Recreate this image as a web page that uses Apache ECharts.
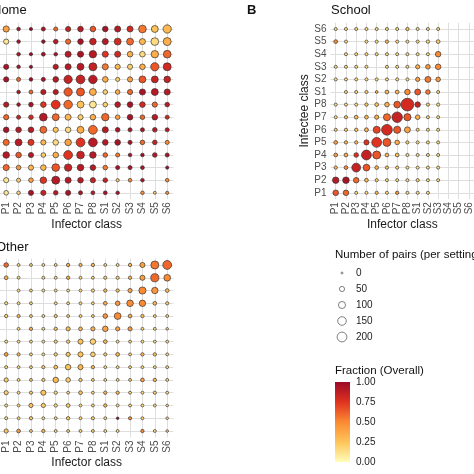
<!DOCTYPE html>
<html>
<head>
<meta charset="utf-8">
<script src="https://cdn.jsdelivr.net/npm/echarts@6/dist/echarts.min.js"></script>
<style>
  html, body { margin: 0; padding: 0; background: #fff; }
  #main { width: 474px; height: 474px; }
</style>
</head>
<body>
<div id="main"></div>
<script>
// infector classes (x) and infectee classes (y, top row first)
const classes = ['P1', 'P2', 'P3', 'P4', 'P5', 'P6', 'P7', 'P8', 'S1', 'S2', 'S3', 'S4', 'S5', 'S6']
const rowsTop = ['S6', 'S5', 'S4', 'S3', 'S2', 'S1', 'P8', 'P7', 'P6', 'P5', 'P4', 'P3', 'P2', 'P1']

// Home - number of pairs, rows S6 -> P1, columns P1 -> S6
const homeCount = [
  [75, 20, 14, 28, 28, 50, 60, 60, 60, 72, 72, 120, 95, 140],
  [50, 20, null, 20, 38, 50, 60, 85, 72, 95, 95, 72, 120, 130],
  [null, 20, 14, 24, 20, 72, 72, 110, 72, 72, 60, 60, 110, 120],
  [50, 20, 14, null, 50, 72, 95, 130, 72, 50, 50, 60, 140, 130],
  [50, 28, 20, 28, 60, 140, 160, 150, 60, 28, 50, 95, 95, 85],
  [null, 20, 24, 50, 50, 140, 130, 95, 38, 38, 50, 72, 95, 72],
  [50, 20, 38, 60, 160, 150, 95, 95, 38, 60, 60, 60, 50, 38],
  [50, 28, 38, 120, 95, 72, 50, 60, 110, 38, 60, 38, 60, 28],
  [60, 60, 60, 95, 50, 60, 95, 160, 72, 38, 28, 28, 38, 28],
  [72, 95, 72, 50, 60, 85, 160, 160, 60, 60, 28, 38, 38, 28],
  [85, 60, 50, 38, 60, 160, 120, 85, 38, 28, 20, 20, 38, 28],
  [72, 38, 50, 60, 120, 110, 85, 60, 38, 28, 28, 24, null, 14],
  [50, 28, 38, 85, 130, 72, 60, 50, 38, 14, 20, 20, null, 20],
  [38, 20, 50, 50, 38, 50, 28, 24, 24, 20, null, 20, 10, 14]
]
// Home - fraction (overall)
const homeFrac = [
  [0.4, 0.95, 1.0, 0.95, 0.6, 0.85, 0.9, 0.65, 0.95, 0.9, 0.8, 0.55, 0.25, 0.3],
  [0.1, 0.95, null, 1.0, 0.9, 0.6, 0.95, 0.85, 0.9, 0.8, 0.6, 0.3, 0.15, 0.35],
  [null, 0.95, 1.0, 0.95, 0.95, 0.9, 0.95, 0.9, 0.75, 0.8, 0.35, 0.15, 0.35, 0.6],
  [0.95, 0.95, 1.0, null, 0.9, 0.9, 0.9, 0.85, 0.55, 0.3, 0.2, 0.35, 0.65, 0.8],
  [0.95, 0.6, 1.0, 0.95, 0.9, 0.85, 0.85, 0.9, 0.35, 0.2, 0.4, 0.65, 0.85, 0.85],
  [null, 0.95, 0.6, 0.9, 0.9, 0.65, 0.65, 0.35, 0.2, 0.35, 0.6, 0.95, 0.9, 0.9],
  [0.9, 0.95, 0.95, 0.75, 0.75, 0.6, 0.25, 0.1, 0.2, 0.9, 0.95, 0.8, 0.6, 0.9],
  [0.6, 0.85, 0.8, 0.9, 0.6, 0.3, 0.2, 0.35, 0.6, 0.4, 0.95, 0.6, 0.9, 0.8],
  [0.95, 0.9, 0.9, 0.6, 0.25, 0.15, 0.35, 0.6, 0.9, 0.95, 0.95, 0.95, 0.9, 0.9],
  [0.6, 0.9, 0.75, 0.3, 0.15, 0.4, 0.75, 0.9, 0.9, 0.95, 0.95, 0.6, 0.85, 0.5],
  [0.9, 0.65, 0.9, 0.2, 0.35, 0.75, 0.85, 0.9, 0.6, 0.55, 0.95, 1.0, 0.9, 0.95],
  [0.6, 0.45, 0.3, 0.3, 0.65, 0.85, 0.9, 0.9, 0.55, 0.95, 0.95, 0.95, null, 1.0],
  [0.1, 0.2, 0.4, 0.75, 0.9, 0.9, 0.9, 0.85, 0.85, 0.2, 0.5, 0.95, null, 0.5],
  [0.1, 0.2, 0.95, 0.85, 0.9, 0.95, 0.95, 0.9, 0.95, 0.95, null, 0.5, 0.2, 0.5]
]

// School - only P1..S3 columns are in the picture
const schoolCount = [
  [12, 12, 12, 12, 12, 12, 12, 16, 12, 12, 12],
  [22, 12, null, 12, 12, 16, 12, 12, 12, 16, 22],
  [null, 12, 12, 12, 12, 12, 12, 12, 12, 12, 58],
  [12, 12, 12, 12, null, 12, 12, 12, 30, 38, 58],
  [12, 12, 12, 12, 12, 12, 12, 12, 30, 68, 38],
  [null, 12, 12, 14, 8, 22, 22, 58, 68, 38, 12],
  [12, 12, 12, 16, 22, 38, 90, 344, 58, 14, 14],
  [12, 14, 22, 22, 30, 100, 230, 103, 38, 12, 12],
  [12, 14, 16, 26, 100, 244, 103, 68, 12, 12, 12],
  [22, 16, 16, 48, 200, 130, 38, 14, 12, 12, 12],
  [22, 22, 38, 200, 130, 22, 22, 12, 12, 12, 12],
  [16, 22, 160, 90, 22, 16, 14, 12, 12, 12, 12],
  [80, 85, 58, 22, 14, 12, 12, 12, 14, 12, 12],
  [60, 58, 12, 12, 14, 12, 16, 12, 12, 12, null]
]
const schoolFrac = [
  [0.15, 0.15, 0.15, 0.15, 0.15, 0.15, 0.15, 0.25, 0.15, 0.15, 0.15],
  [0.5, 0.15, null, 0.15, 0.15, 0.3, 0.15, 0.15, 0.15, 0.15, 0.2],
  [null, 0.15, 0.15, 0.15, 0.15, 0.15, 0.15, 0.15, 0.15, 0.15, 0.5],
  [0.15, 0.15, 0.15, 0.15, null, 0.15, 0.15, 0.15, 0.35, 0.45, 0.5],
  [0.15, 0.15, 0.15, 0.15, 0.15, 0.15, 0.15, 0.15, 0.4, 0.55, 0.45],
  [null, 0.15, 0.15, 0.2, 0.3, 0.3, 0.3, 0.5, 0.65, 0.55, 0.15],
  [0.15, 0.15, 0.15, 0.25, 0.25, 0.35, 0.65, 0.8, 0.85, 0.2, 0.15],
  [0.15, 0.25, 0.3, 0.3, 0.35, 0.6, 0.85, 0.65, 0.35, 0.15, 0.15],
  [0.2, 0.2, 0.25, 0.35, 0.7, 0.8, 0.65, 0.4, 0.2, 0.15, 0.15],
  [0.4, 0.3, 0.3, 0.75, 0.75, 0.65, 0.35, 0.2, 0.15, 0.15, 0.15],
  [0.4, 0.35, 0.75, 0.85, 0.65, 0.3, 0.25, 0.15, 0.15, 0.15, 0.15],
  [0.3, 0.5, 0.85, 0.65, 0.35, 0.25, 0.2, 0.15, 0.15, 0.15, 0.15],
  [0.9, 0.95, 0.6, 0.3, 0.2, 0.15, 0.15, 0.15, 0.2, 0.15, 0.15],
  [0.65, 0.6, 0.15, 0.15, 0.3, 0.15, 0.45, 0.15, 0.15, 0.15, null]
]

// Other
const otherCount = [
  [38, 10, 10, 10, 10, 16, 14, 16, 10, 10, 16, 48, 130, 160],
  [22, 10, null, 10, 10, 16, 10, 10, 14, 14, 16, 48, 135, 90],
  [null, 10, 10, 10, 10, 10, 10, 14, 16, 16, 30, 103, 80, 22],
  [14, 10, 10, null, 10, 10, 10, 10, 22, 38, 85, 80, 22, 14],
  [16, 14, 10, 10, 14, 10, 10, 10, 38, 90, 22, 16, 10, 10],
  [null, 10, 16, 10, 16, 30, 22, 30, 58, 30, 30, 10, 10, 6],
  [12, 10, 10, 10, 14, 16, 48, 58, 22, 10, 10, 10, 10, 10],
  [22, 14, 10, 10, 16, 30, 48, 38, 14, 22, 10, 16, 16, 10],
  [12, 10, 10, 14, 22, 58, 48, 16, 10, 10, 10, 10, 10, 10],
  [30, 10, 10, 14, 58, 38, 16, 10, 10, 10, 10, 22, 16, 10],
  [30, 10, 14, 48, 16, 10, 22, 10, 16, 16, 10, 10, 14, 10],
  [12, 10, 30, 30, 16, 22, 10, 10, 16, 10, 10, 10, 10, 6],
  [12, 10, 16, 10, 10, 16, 10, 14, 10, 6, 14, 10, null, 6],
  [30, 22, 10, 16, 10, 10, 10, 10, 10, 10, null, 16, 10, 6]
]
const otherFrac = [
  [0.6, 0.15, 0.15, 0.15, 0.15, 0.35, 0.3, 0.3, 0.15, 0.15, 0.3, 0.4, 0.55, 0.6],
  [0.35, 0.15, null, 0.15, 0.15, 0.35, 0.15, 0.15, 0.2, 0.2, 0.3, 0.4, 0.6, 0.5],
  [null, 0.15, 0.15, 0.15, 0.15, 0.15, 0.15, 0.15, 0.3, 0.25, 0.4, 0.5, 0.45, 0.3],
  [0.15, 0.15, 0.15, null, 0.15, 0.15, 0.15, 0.15, 0.35, 0.45, 0.5, 0.5, 0.3, 0.2],
  [0.2, 0.3, 0.15, 0.15, 0.2, 0.15, 0.15, 0.15, 0.45, 0.5, 0.35, 0.25, 0.15, 0.15],
  [null, 0.15, 0.35, 0.15, 0.25, 0.3, 0.3, 0.35, 0.4, 0.4, 0.45, 0.15, 0.15, 0.15],
  [0.15, 0.15, 0.15, 0.15, 0.2, 0.2, 0.25, 0.2, 0.3, 0.15, 0.15, 0.15, 0.15, 0.15],
  [0.4, 0.3, 0.15, 0.15, 0.2, 0.25, 0.25, 0.2, 0.2, 0.3, 0.15, 0.3, 0.25, 0.15],
  [0.15, 0.15, 0.15, 0.2, 0.25, 0.25, 0.3, 0.3, 0.15, 0.15, 0.15, 0.15, 0.15, 0.15],
  [0.2, 0.15, 0.15, 0.2, 0.3, 0.2, 0.2, 0.15, 0.15, 0.15, 0.15, 0.4, 0.3, 0.15],
  [0.2, 0.15, 0.2, 0.25, 0.15, 0.15, 0.25, 0.15, 0.3, 0.3, 0.15, 0.15, 0.2, 0.15],
  [0.15, 0.15, 0.25, 0.2, 0.15, 0.2, 0.15, 0.15, 0.3, 0.15, 0.15, 0.15, 0.15, 0.15],
  [0.15, 0.15, 0.2, 0.15, 0.15, 0.2, 0.15, 0.2, 0.15, 1.0, 0.5, 0.15, null, 0.15],
  [0.25, 0.45, 0.15, 0.3, 0.15, 0.15, 0.15, 0.15, 0.15, 0.15, null, 0.5, 0.15, 0.15]
]

// legends
const sizeBreaks = [0, 50, 100, 150, 200]
const fracTicks = [0, 0.25, 0.5, 0.75, 1]
const fracColors = ['#FFFDB8', '#FEC45A', '#FB8A32', '#E0321F', '#9C0A28']

const FONT = 'Liberation Sans, Arial, sans-serif'
const GRIDLINE = { show: true, alignWithLabel: true, lineStyle: { color: '#dedede', width: 1 } }

// area proportional dot size
function dotSize(n) {
  return Math.sqrt(4 + 0.46 * n)
}

function cells(counts, fracs) {
  let out = []
  counts.forEach((row, i) => {
    row.forEach((n, j) => {
      if (n == null) return
      out.push([classes[j], rowsTop[i], n, fracs[i][j]])
    })
  })
  return out
}

function panelX(gridIndex, gap) {
  return {
    gridIndex: gridIndex,
    type: 'category',
    data: classes,
    name: 'Infector class',
    nameLocation: 'middle',
    nameGap: gap,
    nameTextStyle: { fontSize: 12, color: '#1a1a1a', fontFamily: FONT },
    axisLine: { show: false },
    axisTick: { show: false },
    axisLabel: { interval: 0, rotate: 90, fontSize: 10, color: '#4d4d4d', margin: 3, fontFamily: FONT },
    splitLine: GRIDLINE
  }
}

function panelY(gridIndex, showLabels) {
  return {
    gridIndex: gridIndex,
    type: 'category',
    data: rowsTop,
    inverse: true,
    name: showLabels ? 'Infectee class' : '',
    nameLocation: 'middle',
    nameGap: 20,
    nameTextStyle: { fontSize: 12, color: '#1a1a1a', fontFamily: FONT },
    axisLine: { show: false },
    axisTick: { show: false },
    axisLabel: { show: showLabels, interval: 0, fontSize: 10, color: '#4d4d4d', margin: 4, fontFamily: FONT },
    splitLine: GRIDLINE
  }
}

function dotSeries(idx, data) {
  return {
    type: 'scatter',
    xAxisIndex: idx,
    yAxisIndex: idx,
    data: data,
    symbolSize: v => dotSize(v[2]),
    itemStyle: { borderColor: '#333', borderWidth: 0.7, opacity: 1 },
    emphasis: { disabled: true }
  }
}

const chart = echarts.init(document.getElementById('main'), null, { renderer: 'canvas' })

chart.setOption({
  animation: false,
  textStyle: { fontFamily: FONT },
  grid: [
    { left: -4.4, top: 22.7, width: 177.8, height: 176.4 },   // Home
    { left: 330.6, top: 22.7, width: 179.2, height: 176.4 },  // School
    { left: -4.4, top: 258.6, width: 177.8, height: 178.8 },  // Other
    { left: 336, top: 265, width: 12, height: 80 },           // size legend
    { left: 335, top: 382, width: 15, height: 80 }            // colour bar
  ],
  xAxis: [
    panelX(0, 20),
    panelX(1, 20),
    panelX(2, 17),
    { gridIndex: 3, type: 'category', data: ['n'], show: false },
    { gridIndex: 4, type: 'category', data: ['f'], show: false }
  ],
  yAxis: [
    panelY(0, false),
    panelY(1, true),
    panelY(2, false),
    {
      gridIndex: 3, type: 'category', data: sizeBreaks.map(String), inverse: true, position: 'right',
      axisLine: { show: false }, axisTick: { show: false }, splitLine: { show: false },
      axisLabel: { fontSize: 10, color: '#222', margin: 8, fontFamily: FONT }
    },
    {
      gridIndex: 4, type: 'value', position: 'right',
      min: fracTicks[0], max: fracTicks[fracTicks.length - 1], interval: 0.25,
      axisLine: { show: false }, axisTick: { show: false }, splitLine: { show: false },
      axisLabel: { fontSize: 10, color: '#222', margin: 6, fontFamily: FONT, formatter: v => v.toFixed(2) }
    }
  ],
  visualMap: {
    show: false,
    type: 'continuous',
    min: 0,
    max: 1,
    dimension: 3,
    seriesIndex: [0, 1, 2],
    inRange: { color: fracColors }
  },
  series: [
    dotSeries(0, cells(homeCount, homeFrac)),
    dotSeries(1, cells(schoolCount, schoolFrac)),
    dotSeries(2, cells(otherCount, otherFrac)),
    {
      type: 'scatter', xAxisIndex: 3, yAxisIndex: 3,
      data: sizeBreaks.map(n => ['n', String(n), n]),
      symbolSize: v => dotSize(v[2]),
      itemStyle: { color: '#fff', borderColor: '#3a3a3a', borderWidth: 0.8 },
      emphasis: { disabled: true }
    },
    {
      type: 'bar', xAxisIndex: 4, yAxisIndex: 4, barWidth: '100%',
      data: [fracTicks[fracTicks.length - 1]],
      itemStyle: {
        color: {
          type: 'linear', x: 0, y: 0, x2: 0, y2: 1,
          colorStops: fracColors.slice().reverse().map((c, i) => ({ offset: i / (fracColors.length - 1), color: c }))
        }
      },
      emphasis: { disabled: true }
    }
  ],
  graphic: [
    { type: 'text', x: -8, y: 10, style: { text: 'Home', font: '13px ' + FONT, fill: '#111', textVerticalAlign: 'middle' } },
    { type: 'text', x: 247, y: 10, style: { text: 'B', font: 'bold 13px ' + FONT, fill: '#111', textVerticalAlign: 'middle' } },
    { type: 'text', x: 331, y: 10, style: { text: 'School', font: '13px ' + FONT, fill: '#111', textVerticalAlign: 'middle' } },
    { type: 'text', x: -4, y: 247, style: { text: 'Other', font: '13px ' + FONT, fill: '#111', textVerticalAlign: 'middle' } },
    { type: 'text', x: 335, y: 255, style: { text: 'Number of pairs (per setting)', font: '11.5px ' + FONT, fill: '#111', textVerticalAlign: 'middle' } },
    { type: 'text', x: 335, y: 371, style: { text: 'Fraction (Overall)', font: '11.5px ' + FONT, fill: '#111', textVerticalAlign: 'middle' } }
  ]
})
</script>
</body>
</html>
